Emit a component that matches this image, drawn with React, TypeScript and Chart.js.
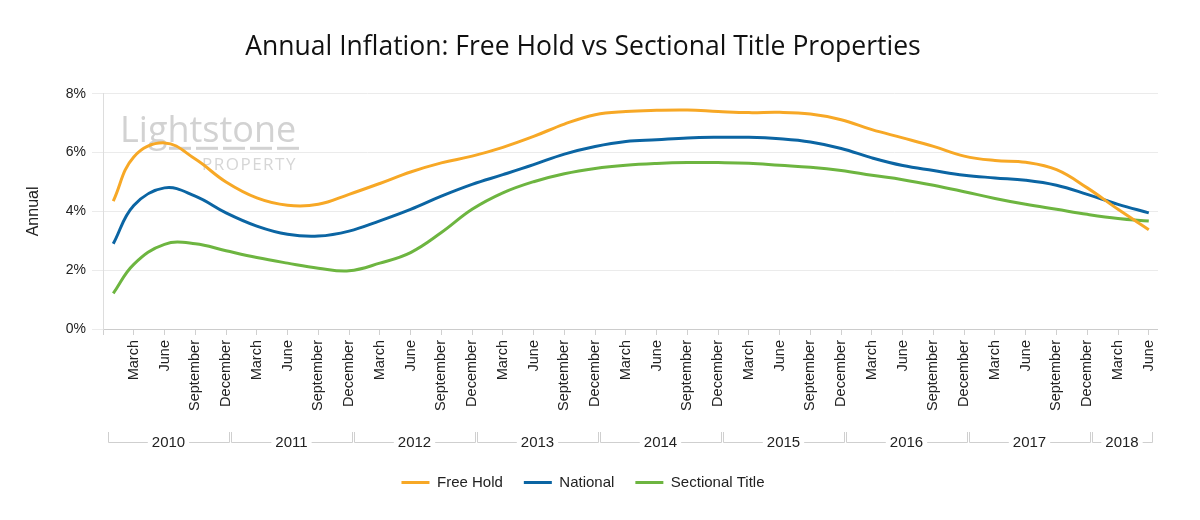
import { useEffect, useRef } from 'react';
import { Chart, registerables } from 'chart.js';

Chart.register(...registerables);

// Sample periods, as month offsets from January 2010 (0 = Jan 2010, 101 = Jun 2018)
const sampleMonths = [
  0, 2, 5, 8, 11, 14, 17, 20, 23, 26, 29, 32, 35, 38, 41, 44, 47, 50,
  53, 56, 59, 62, 65, 68, 71, 74, 77, 80, 83, 86, 89, 92, 95, 98, 101,
];

// Annual inflation, %
const freeHold = [
  4.35, 5.85, 6.33, 5.78, 5.0, 4.46, 4.21, 4.24, 4.58, 4.95, 5.34, 5.65,
  5.88, 6.18, 6.55, 6.97, 7.29, 7.4, 7.44, 7.45, 7.4, 7.36, 7.37, 7.31,
  7.12, 6.78, 6.5, 6.21, 5.88, 5.73, 5.67, 5.42, 4.8, 4.07, 3.38,
];
const national = [
  2.9, 4.2, 4.8, 4.52, 3.95, 3.5, 3.22, 3.16, 3.33, 3.68, 4.07, 4.52,
  4.92, 5.25, 5.59, 5.95, 6.21, 6.38, 6.44, 6.5, 6.52, 6.52, 6.47, 6.36,
  6.14, 5.82, 5.56, 5.39, 5.23, 5.14, 5.06, 4.89, 4.58, 4.24, 3.95,
];
const sectionalTitle = [
  1.21, 2.2, 2.88, 2.9, 2.66, 2.43, 2.24, 2.07, 1.98, 2.24, 2.6, 3.28,
  4.07, 4.63, 5.01, 5.28, 5.46, 5.57, 5.63, 5.66, 5.66, 5.64, 5.57, 5.5,
  5.39, 5.23, 5.08, 4.89, 4.67, 4.44, 4.24, 4.07, 3.9, 3.76, 3.67,
];

// Axis ticks: the start boundary (Dec 2009) followed by each quarter end
const tickMonths = [-1, ...sampleMonths.slice(1)];
const quarterNames = ['March', 'June', 'September', 'December'];
const years = ['2010', '2011', '2012', '2013', '2014', '2015', '2016', '2017', '2018'];
const yTicks = [0, 2, 4, 6, 8];

const TITLE = 'Annual Inflation: Free Hold vs Sectional Title Properties';
const ORANGE = '#F7A826';
const BLUE = '#0B65A3';
const GREEN = '#6DB540';
const TEXT = '#222222';
const SANS = "'Liberation Sans', Arial, sans-serif";

function quarterLabel(v: number): string {
  if (v < 0) return '';
  const m = ((v % 12) + 12) % 12;
  const q = (m - 2) / 3;
  return Number.isInteger(q) ? quarterNames[q] : '';
}

// Faint brand mark in the upper-left of the plot
const watermark = {
  id: 'watermark',
  beforeDatasetsDraw(chart: any) {
    const { ctx, chartArea } = chart;
    const x0 = chartArea.left;
    const y0 = chartArea.top;
    ctx.save();
    ctx.fillStyle = '#d2d2d2';
    ctx.font = "36px 'Open Sans', sans-serif";
    ctx.textBaseline = 'alphabetic';
    ctx.textAlign = 'left';
    ctx.fillText('Lightstone', x0 + 17, y0 + 48);
    for (let i = 0; i < 5; i++) {
      ctx.fillRect(x0 + 66 + i * 27, y0 + 53, 22, 3);
    }
    ctx.fillStyle = '#d6d6d6';
    ctx.font = "17px 'Open Sans', sans-serif";
    (ctx as any).letterSpacing = '1.5px';
    ctx.fillText('PROPERTY', x0 + 99, y0 + 76);
    ctx.restore();
  },
};

// Year brackets underneath the quarter labels
const yearBands = {
  id: 'yearBands',
  afterDraw(chart: any) {
    const { ctx, chartArea } = chart;
    const xs = chart.scales.x;
    const lineY = chartArea.bottom + 113;
    ctx.save();
    ctx.font = `15px ${SANS}`;
    ctx.textAlign = 'center';
    ctx.textBaseline = 'middle';
    ctx.strokeStyle = '#cfcfcf';
    ctx.lineWidth = 1;
    years.forEach((yr, i) => {
      const startM = -1 + 12 * i;
      const endM = Math.min(11 + 12 * i, tickMonths[tickMonths.length - 1]);
      const left = Math.round(xs.getPixelForValue(startM)) + 5;
      const right = Math.round(xs.getPixelForValue(endM)) + 3;
      const mid = (left + right) / 2;
      const tw = ctx.measureText(yr).width;
      const gapL = mid - tw / 2 - 4;
      const gapR = mid + tw / 2 + 4;
      ctx.beginPath();
      ctx.moveTo(left + 0.5, lineY - 10);
      ctx.lineTo(left + 0.5, lineY + 0.5);
      ctx.lineTo(gapL, lineY + 0.5);
      ctx.moveTo(gapR, lineY + 0.5);
      ctx.lineTo(right + 0.5, lineY + 0.5);
      ctx.lineTo(right + 0.5, lineY - 10);
      ctx.stroke();
      ctx.fillStyle = TEXT;
      ctx.fillText(yr, mid, lineY + 1);
    });
    ctx.restore();
  },
};

function series(label: string, values: number[], color: string) {
  return {
    label,
    data: sampleMonths.map((m, i) => ({ x: m, y: values[i] })),
    borderColor: color,
    backgroundColor: color,
    borderWidth: 3,
    pointRadius: 0,
    pointHoverRadius: 0,
    fill: false,
    tension: 0.4,
  };
}

export default function App() {
  const canvasRef = useRef<HTMLCanvasElement | null>(null);

  useEffect(() => {
    if (!canvasRef.current) return;
    const chart = new Chart(canvasRef.current, {
      type: 'line',
      data: {
        datasets: [
          series('Free Hold', freeHold, ORANGE),
          series('National', national, BLUE),
          series('Sectional Title', sectionalTitle, GREEN),
        ],
      },
      options: {
        animation: false,
        responsive: true,
        maintainAspectRatio: false,
        layout: { padding: { left: 0, right: 0, top: 0, bottom: 12 } },
        plugins: {
          title: {
            display: true,
            text: TITLE,
            color: '#111111',
            font: { family: "'Open Sans', sans-serif", size: 26.5, weight: 'normal' },
            padding: { top: 24, bottom: 30 },
          },
          legend: {
            position: 'bottom',
            labels: {
              color: TEXT,
              font: { family: SANS, size: 15 },
              boxWidth: 28,
              boxHeight: 3,
              padding: 21,
              generateLabels(chart: any) {
                const items = Chart.defaults.plugins.legend.labels.generateLabels(chart);
                return items.map((it: any) => ({ ...it, lineWidth: 0 }));
              },
            },
          },
          tooltip: { enabled: false },
        },
        scales: {
          x: {
            type: 'linear',
            min: -1,
            max: 101.9,
            afterBuildTicks(scale: any) {
              scale.ticks = tickMonths.map((v) => ({ value: v }));
            },
            afterFit(scale: any) {
              scale.height = 125;
              scale.paddingLeft = 0;
              scale.paddingRight = 0;
            },
            ticks: {
              autoSkip: false,
              minRotation: 90,
              maxRotation: 90,
              padding: 5,
              color: TEXT,
              font: { family: SANS, size: 14.5 },
              callback: (v: any) => quarterLabel(Number(v)),
            },
            grid: { drawOnChartArea: false, tickLength: 6, color: '#d0d0d0' },
            border: { color: '#cccccc' },
          },
          y: {
            min: 0,
            max: 8,
            afterBuildTicks(scale: any) {
              scale.ticks = yTicks.map((v) => ({ value: v }));
            },
            afterFit(scale: any) {
              scale.width = 95;
            },
            ticks: {
              padding: 6,
              color: TEXT,
              font: { family: SANS, size: 14 },
              callback: (v: any) => `${v}%`,
            },
            grid: { color: '#ebebeb', tickLength: 11 },
            border: { color: '#dddddd' },
            title: {
              display: true,
              text: 'Annual',
              color: TEXT,
              font: { family: SANS, size: 16 },
              padding: { top: 16, bottom: 0 },
            },
          },
        },
      },
      plugins: [watermark, yearBands],
    });
    return () => chart.destroy();
  }, []);

  return (
    <div style={{ width: 1150, height: 504, position: 'relative' }}>
      <canvas ref={canvasRef} />
    </div>
  );
}
